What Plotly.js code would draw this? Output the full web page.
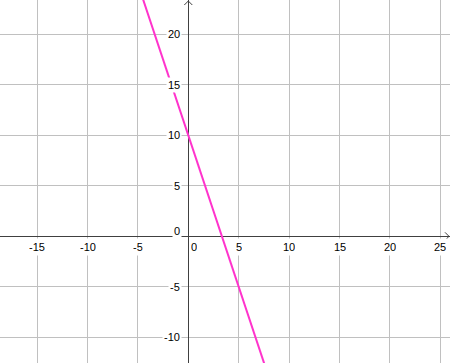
<!DOCTYPE html>
<html>
<head>
<meta charset="utf-8">
<script src="https://cdn.plot.ly/plotly-3.0.1.min.js"></script>
<style>html,body{margin:0;padding:0;background:#fff;}#chart{width:450px;height:363px;}</style>
</head>
<body>
<div id="chart"></div>
<script>
// Data: straight line through these points
var lineX = [-5, 8];
var lineY = [25, -14];

// Tick labels
var xTicks = [-15, -10, -5, 0, 5, 10, 15, 20, 25];
var yTicks = [-10, -5, 0, 5, 10, 15, 20];

var xRange = [-18.68, 25.96];
var yRange = [-12.54, 23.40];

var labelFont = {family: '"Liberation Sans", Arial, sans-serif', size: 11, color: '#000'};
var annotations = [];
xTicks.forEach(function (t) {
  annotations.push({
    x: t, y: 0, xref: 'x', yref: 'y', text: String(t), showarrow: false,
    xanchor: 'center', yanchor: 'top', valign: 'middle', height: 14,
    xshift: t === 0 ? 6 : 0, yshift: -1.5,
    bgcolor: '#fff', borderpad: 1, font: labelFont
  });
});
yTicks.forEach(function (t) {
  annotations.push({
    x: 0, y: t, xref: 'x', yref: 'y', text: String(t), showarrow: false,
    xanchor: 'right', yanchor: 'middle', xshift: -6, yshift: t === 0 ? 5 : 0,
    bgcolor: '#fff', borderpad: 1, font: labelFont
  });
});

var axisColor = '#404040';
var shapes = [
  {type: 'path', xref: 'x', yref: 'y', xsizemode: 'pixel', ysizemode: 'pixel',
   xanchor: xRange[1], yanchor: 0, path: 'M -5,4 L -1,0 L -5,-4',
   line: {color: axisColor, width: 1}},
  {type: 'path', xref: 'x', yref: 'y', xsizemode: 'pixel', ysizemode: 'pixel',
   xanchor: 0, yanchor: yRange[1], path: 'M -4,-5 L 0,-1 L 4,-5',
   line: {color: axisColor, width: 1}}
];

var trace = {
  x: lineX, y: lineY, type: 'scatter', mode: 'lines',
  line: {color: '#ff33cc', width: 2}, hoverinfo: 'skip'
};

var layout = {
  width: 450, height: 363,
  margin: {l: 0, r: 0, t: 0, b: 0},
  paper_bgcolor: '#fff', plot_bgcolor: '#fff',
  showlegend: false,
  xaxis: {range: xRange, tick0: 0, dtick: 5, showgrid: true, gridcolor: '#c0c0c0', gridwidth: 1,
          zeroline: true, zerolinecolor: axisColor, zerolinewidth: 1,
          showticklabels: false, ticks: '', showline: false, fixedrange: true},
  yaxis: {range: yRange, tick0: 0, dtick: 5, showgrid: true, gridcolor: '#c0c0c0', gridwidth: 1,
          zeroline: true, zerolinecolor: axisColor, zerolinewidth: 1,
          showticklabels: false, ticks: '', showline: false, fixedrange: true},
  annotations: annotations,
  shapes: shapes
};

Plotly.newPlot('chart', [trace], layout, {displayModeBar: false, staticPlot: true});
</script>
</body>
</html>
